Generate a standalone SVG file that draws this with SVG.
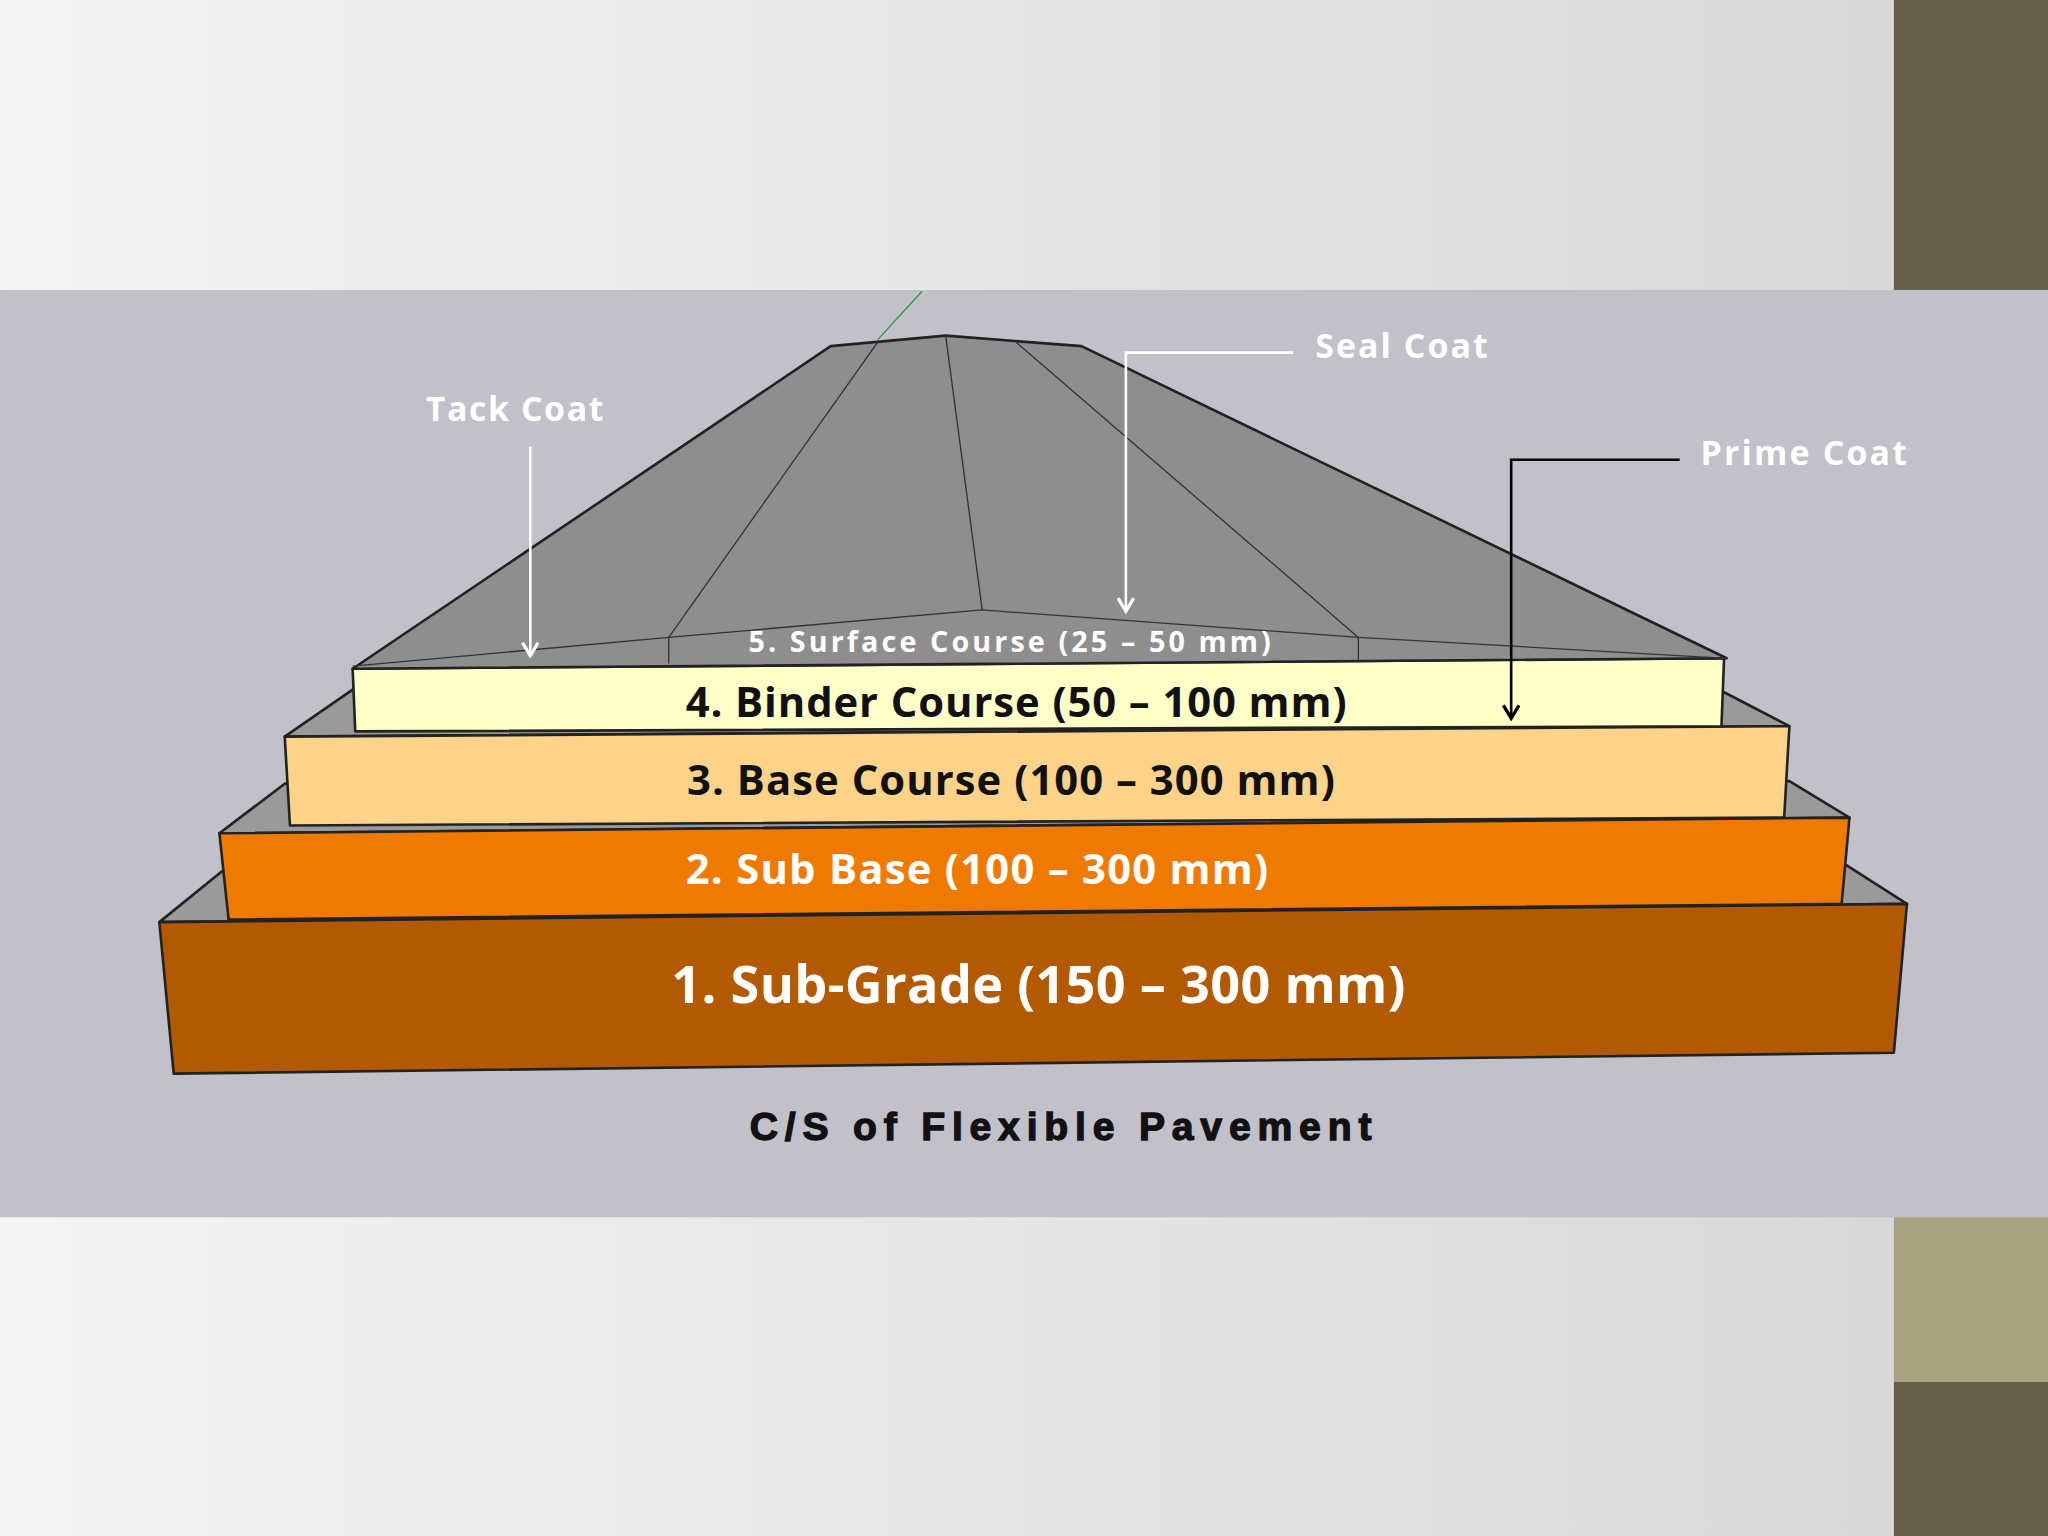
<svg xmlns="http://www.w3.org/2000/svg" width="2048" height="1536" viewBox="0 0 2048 1536">
<defs>
<linearGradient id="bg" x1="0" y1="0" x2="1" y2="0"><stop offset="0" stop-color="#f4f4f4"/><stop offset="1" stop-color="#d6d6d6"/></linearGradient>
<marker id="aw" markerWidth="14" markerHeight="14" refX="12" refY="7" orient="auto" markerUnits="userSpaceOnUse" viewBox="0 0 14 14"><path d="M2,1 L12,7 L2,13" fill="none" stroke="#fff" stroke-width="2.5"/></marker>
<marker id="ab" markerWidth="14" markerHeight="14" refX="12" refY="7" orient="auto" markerUnits="userSpaceOnUse" viewBox="0 0 14 14"><path d="M2,1 L12,7 L2,13" fill="none" stroke="#000" stroke-width="2.5"/></marker>
</defs>
<style>
.e{stroke:#222;stroke-width:2;stroke-linejoin:round}
.g{fill:#9a9a9a}
.t{font-family:"Open Sans","Liberation Sans",sans-serif;font-weight:700;text-anchor:middle}
.w{fill:#fff}.k{fill:#111}
</style>
<g transform="scale(1.30612)">
<rect width="1568" height="1176" fill="url(#bg)"/>
<rect y="222" width="1568" height="710" fill="#c0c1c9"/>
<rect x="1450" y="0" width="118" height="222" fill="#665e48"/>
<rect x="1450" y="932" width="118" height="126" fill="#a8a37e"/>
<rect x="1450" y="1058" width="118" height="118" fill="#665e48"/>
<g id="subgrade">
<polygon class="e g" points="122,706 170,667 1410,660 1460,692"/>
<polygon class="e" fill="#b35a00" points="122,706 1460,692 1450,806 133,822"/>
<text class="t w" x="795" y="768" font-size="40" textLength="562">1. Sub-Grade (150 – 300 mm)</text>
</g>
<g id="subbase">
<polygon class="e g" points="168,638 218,600 1370,598 1416,626"/>
<polygon class="e" fill="#f07a00" points="168,638 1416,626 1410,692 175,704"/>
<text class="t w" x="748" y="677" font-size="32" textLength="446">2. Sub Base (100 – 300 mm)</text>
</g>
<g id="base">
<polygon class="e g" points="218,564 270,528 1320,530 1370,556"/>
<polygon class="e" fill="#fdd38a" points="218,564 1370,556 1366,626 222,632"/>
<text class="t k" x="774" y="609" font-size="32" textLength="496">3. Base Course (100 – 300 mm)</text>
</g>
<g id="binder">
<polygon class="e" fill="#ffffc8" points="270,512 1320,504 1318,556 272,560"/>
<text class="t k" x="778" y="549" font-size="32" textLength="506">4. Binder Course (50 – 100 mm)</text>
</g>
<g id="surface">
<polygon class="e" fill="#8e8e8e" stroke-width="2.5" points="270,512 636,265 724,257 828,265 1322,504"/>
<polyline fill="none" stroke="#333" stroke-width="1" points="270,510 512,488 752,467 1040,488 1322,504"/>
<path d="M512,488 L672,262 M752,467 L724,257 M1040,488 L778,262 M512,488 L512,508 M1040,488 L1040,505" stroke="#333" stroke-width="1" fill="none"/>
<line x1="672" y1="260" x2="706" y2="223" stroke="#2a9a3a" stroke-width="1"/>
<text class="t w" x="773" y="499" font-size="22" textLength="400">5. Surface Course (25 – 50 mm)</text>
</g>
<g id="connectors" fill="none" stroke-width="2">
<polyline stroke="#fff" points="406,342 406,502" marker-end="url(#aw)"/>
<polyline stroke="#fff" points="990,270 862,270 862,468" marker-end="url(#aw)"/>
<polyline stroke="#000" points="1286,352 1157,352 1157,550" marker-end="url(#ab)"/>
</g>
<g id="labels">
<text class="t w" x="394" y="322" font-size="26" textLength="136">Tack Coat</text>
<text class="t w" x="1073" y="274" font-size="26" textLength="132">Seal Coat</text>
<text class="t w" x="1381" y="356" font-size="26" textLength="158">Prime Coat</text>
<text x="812" y="873" font-size="30" text-anchor="middle" font-family="'Liberation Sans',sans-serif" font-weight="900" fill="#111" stroke="#111" stroke-width="1" textLength="476">C/S of Flexible Pavement</text>
</g>
</g>
</svg>
